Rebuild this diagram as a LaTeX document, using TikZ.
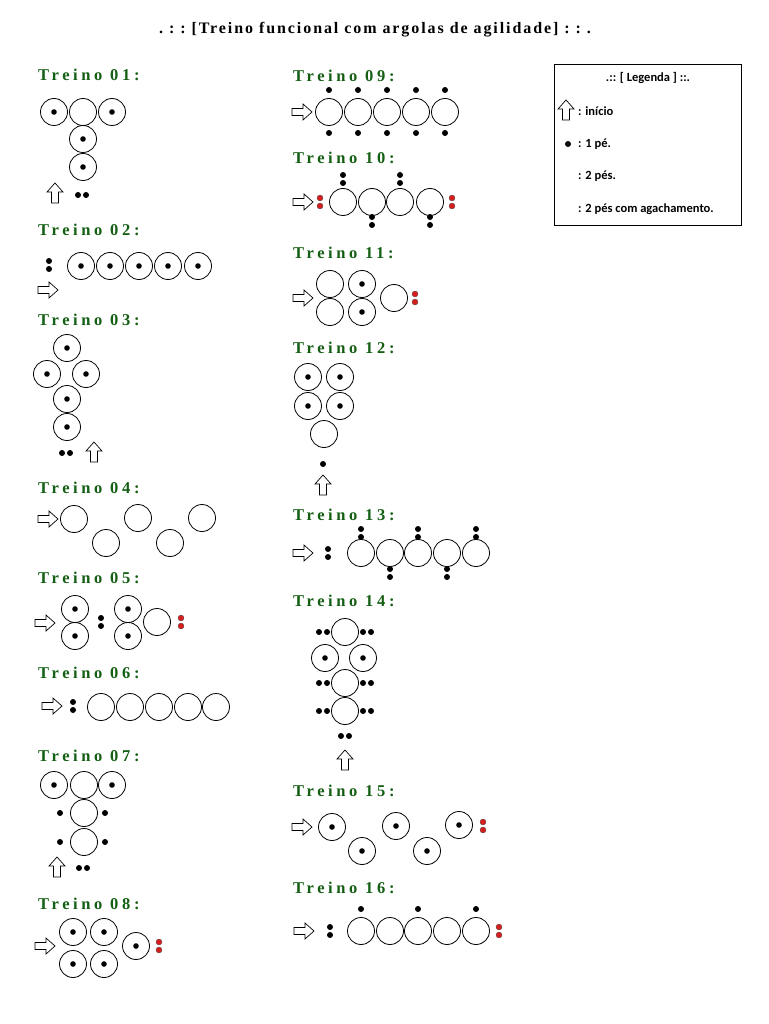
\documentclass[tikz,border=0pt]{standalone}
\usepackage{fontspec}
\setmainfont{Liberation Serif}
\newfontfamily\hdfont[LetterSpace=22]{Liberation Serif}
\newfontfamily\ttlfont[LetterSpace=12]{Liberation Serif}
\newfontfamily\lgfont{Carlito}
\definecolor{hdgreen}{RGB}{20,95,20}
\definecolor{rdot}{RGB}{215,30,30}
\tikzset{
 ring/.style={draw,line width=0.8pt},
 hd/.style={anchor=west,text=hdgreen,font=\hdfont\bfseries\fontsize{16.5}{16}\selectfont,inner sep=0},
 lg/.style={anchor=west,font=\lgfont\bfseries\fontsize{12.5}{12}\selectfont,inner sep=0},
 blk/.style={draw,line width=0.7pt,fill=white}
}
\newcommand\Rg[2]{\draw[ring] (#1,#2) circle (13.5);}
\newcommand\Rd[2]{\draw[ring] (#1,#2) circle (13.5); \fill (#1,#2) circle (2.8);}
\newcommand\Db[2]{\fill (#1,#2) circle (3);}
\newcommand\Dr[2]{\filldraw[fill=rdot,draw=black!70,line width=0.3pt] (#1,#2) circle (3);}
\newcommand\Vb[2]{\Db{#1}{#2-4}\Db{#1}{#2+4}}
\newcommand\Hb[2]{\Db{#1-4}{#2}\Db{#1+4}{#2}}
\newcommand\Vr[2]{\Dr{#1}{#2-4}\Dr{#1}{#2+4}}
\newcommand\AR[2]{\draw[blk] (#1-10,#2-3.5) -- (#1+1,#2-3.5) -- (#1+1,#2-8) -- (#1+10,#2) -- (#1+1,#2+8) -- (#1+1,#2+3.5) -- (#1-10,#2+3.5) -- cycle;}
\newcommand\AU[2]{\draw[blk] (#1-3.5,#2+10) -- (#1-3.5,#2-1) -- (#1-8,#2-1) -- (#1,#2-10) -- (#1+8,#2-1) -- (#1+3.5,#2-1) -- (#1+3.5,#2+10) -- cycle;}
\begin{document}
\begin{tikzpicture}[x=1pt,y=-1pt]
\useasboundingbox[fill=white] (0,0) rectangle (768,1024);
\node[font=\ttlfont\fontsize{16}{16}\selectfont\bfseries,inner sep=0] (title) at (375,30) {.\ :\ :\ [Treino funcional com argolas de agilidade]\ :\ :\ .};
% Left column
\node[hd] (h1) at (38,75) {Treino 01:};
\Rd{54}{112}\Rg{83}{112}\Rd{112}{112}\Rd{83}{139}\Rd{83}{167}\AU{55}{193}\Hb{82}{195}
\node[hd] (h2) at (38,230) {Treino 02:};
\Vb{49}{265}\Rd{81}{266}\Rd{110}{266}\Rd{139}{266}\Rd{168}{266}\Rd{198}{266}\AR{48}{290}
\node[hd] (h3) at (38,320) {Treino 03:};
\Rd{67}{348}\Rd{47}{374}\Rd{86}{374}\Rd{67}{399}\Rd{67}{427}\Hb{66}{453}\AU{94}{452}
\node[hd] (h4) at (38,488) {Treino 04:};
\AR{48}{519}\Rg{74}{519}\Rg{106}{543}\Rg{138}{518}\Rg{170}{543}\Rg{202}{518}
\node[hd] (h5) at (38,578) {Treino 05:};
\AR{45}{623}\Rd{75}{609}\Rd{75}{636}\Vb{101}{622}\Rd{128}{609}\Rd{128}{636}\Rg{157}{622}\Vr{181}{622}
\node[hd] (h6) at (38,673) {Treino 06:};
\AR{52}{706}\Vb{73}{706}\Rg{101}{707}\Rg{130}{707}\Rg{159}{707}\Rg{188}{707}\Rg{216}{707}
\node[hd] (h7) at (38,756) {Treino 07:};
\Rd{54}{785}\Rg{84}{785}\Rd{112}{785}\Rg{84}{813}\Db{60}{813}\Db{105}{813}\Rg{84}{842}\Db{60}{842}\Db{105}{842}\AU{57}{867}\Hb{83}{868}
\node[hd] (h8) at (38,904) {Treino 08:};
\AR{45}{946}\Rd{73}{932}\Rd{104}{932}\Rd{73}{964}\Rd{104}{964}\Rd{136}{946}\Vr{159}{946}
% Right column
\node[hd] (h9) at (293,76) {Treino 09:};
\AR{302}{112}
\foreach \x in {329,358,387,416,445}{\Rg{\x}{112}\Db{\x}{90}\Db{\x}{133}}
\node[hd] (h10) at (293,158) {Treino 10:};
\AR{303}{202}\Vr{320}{202}\Rg{343}{202}\Rg{372}{202}\Rg{400}{202}\Rg{430}{202}
\Vb{343}{179}\Vb{400}{179}\Vb{372}{221}\Vb{430}{221}\Vr{452}{202}
\node[hd] (h11) at (293,253) {Treino 11:};
\AR{303}{298}\Rg{330}{284}\Rg{330}{312}\Rd{362}{284}\Rd{362}{312}\Rg{394}{298}\Vr{415}{298}
\node[hd] (h12) at (293,348) {Treino 12:};
\Rd{308}{377}\Rd{340}{377}\Rd{308}{406}\Rd{340}{406}\Rg{324}{434}\Db{323}{464}\AU{323}{485}
\node[hd] (h13) at (293,515) {Treino 13:};
\AR{303}{553}\Vb{328}{553}
\foreach \x in {361,390,418,447,476}{\Rg{\x}{553}}
\Vb{361}{533}\Vb{418}{533}\Vb{476}{533}\Vb{390}{573}\Vb{447}{573}
\node[hd] (h14) at (293,601) {Treino 14:};
\Rg{345}{632}\Hb{323}{632}\Hb{367}{632}\Rd{325}{658}\Rd{363}{658}
\Rg{345}{683}\Hb{323}{683}\Hb{367}{683}\Rg{345}{711}\Hb{323}{711}\Hb{367}{711}
\Hb{345}{736}\AU{345}{760}
\node[hd] (h15) at (293,791) {Treino 15:};
\AR{302}{827}\Rd{332}{827}\Rd{362}{851}\Rd{396}{826}\Rd{427}{851}\Rd{459}{825}\Vr{483}{826}
\node[hd] (h16) at (293,888) {Treino 16:};
\AR{304}{931}\Vb{330}{931}
\foreach \x in {361,390,418,447,476}{\Rg{\x}{931}}
\Db{361}{909}\Db{418}{909}\Db{476}{909}\Vr{499}{931}
% Legend
\draw[line width=0.8pt] (554,64) rectangle (741,225);
\node[lg,anchor=center] (lt) at (648,78) {.:: [ Legenda ] ::.};
\AU{566}{110}\node[lg] (l1) at (578,111) {: início};
\Db{568}{144}\node[lg] (l2) at (578,144) {: 1 pé.};
\node[lg] (l3) at (578,176) {: 2 pés.};
\node[lg] (l4) at (578,209) {: 2 pés com agachamento.};
\end{tikzpicture}
\end{document}
